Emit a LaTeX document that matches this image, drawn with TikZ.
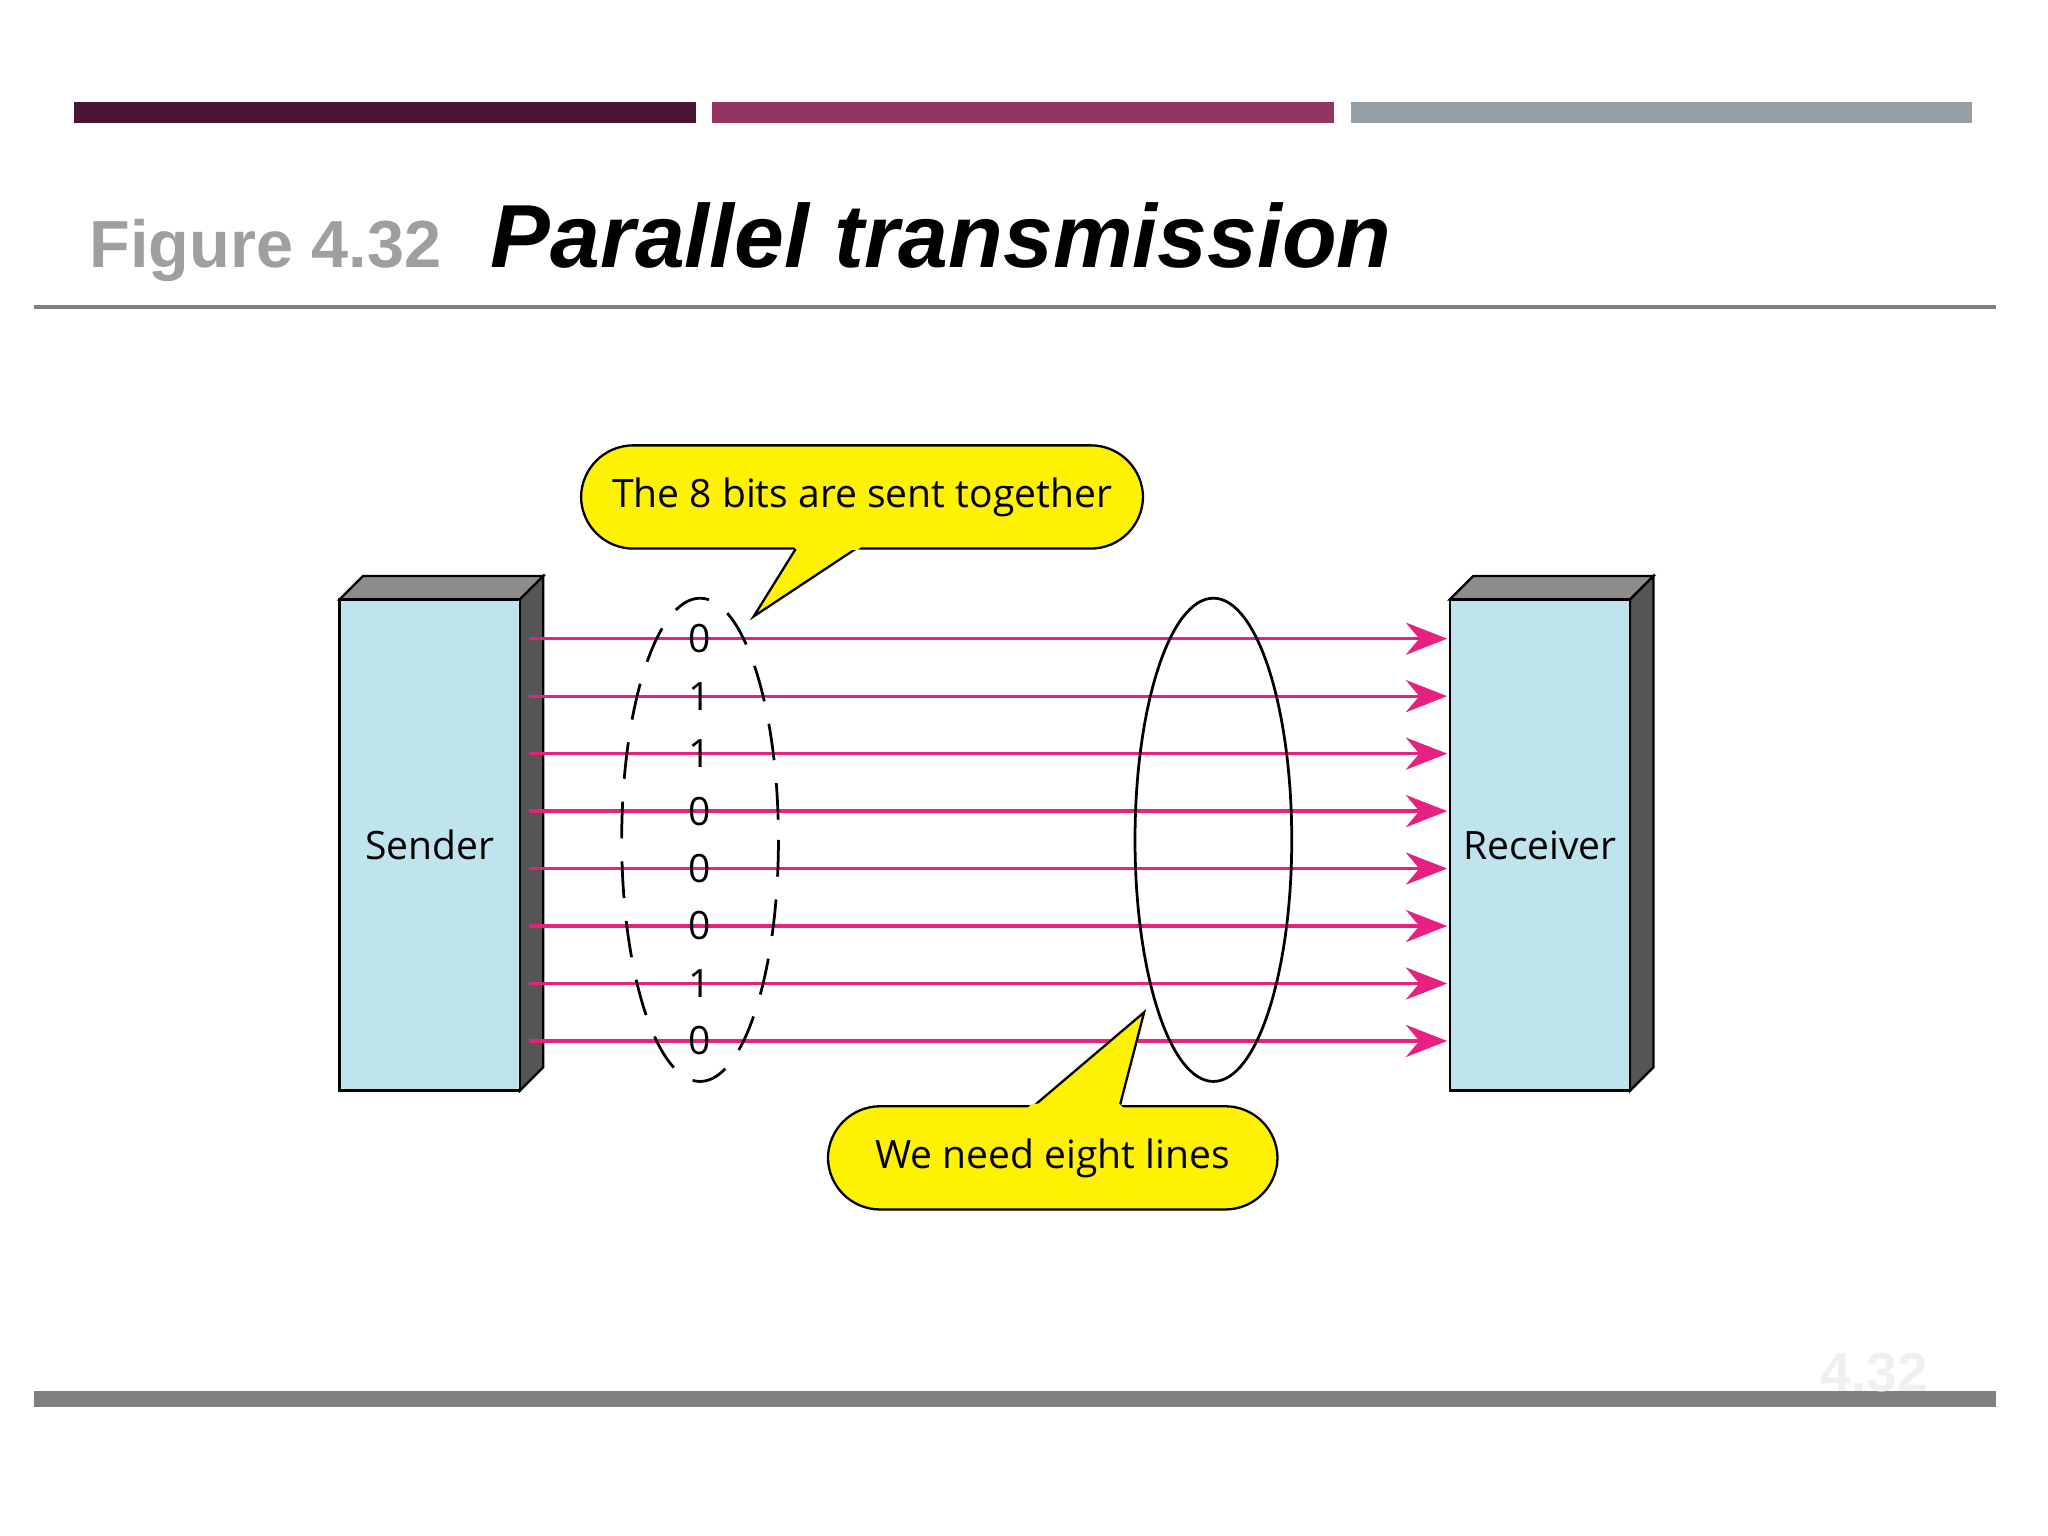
\documentclass[tikz,border=0pt]{standalone}
\usepackage{fontspec}
\setmainfont{Liberation Sans}
\newfontfamily\callfont{Open Sans}
\usetikzlibrary{arrows.meta}
\definecolor{plum}{HTML}{4A1535}
\definecolor{rose}{HTML}{943463}
\definecolor{slate}{HTML}{979FA6}
\definecolor{boxblue}{HTML}{C0E4EE}
\definecolor{topgray}{HTML}{8C8C8C}
\definecolor{sidegray}{HTML}{555555}
\definecolor{wire}{HTML}{E8207F}
\definecolor{callyellow}{HTML}{FFF200}
\tikzset{
  wirearrow/.style={wire, line width=0.7pt, -{Stealth[length=9pt,width=7pt]}},
  bit/.style={font=\callfont\fontsize{8.5}{10}\selectfont, inner sep=0pt},
  callout/.style={draw=black, line width=0.5pt, fill=callyellow, rounded corners=0.4cm, font=\callfont\fontsize{8.5}{10}\selectfont, minimum height=0.79cm},
  boxlabel/.style={font=\callfont\fontsize{8.5}{10}\selectfont}
}
\begin{document}
\begin{tikzpicture}[x=0.01cm,y=-0.01cm]
\useasboundingbox (0,0) rectangle (1568,1176);
\fill[white] (0,0) rectangle (1568,1176);
% top bars
\fill[plum] (57,78) rectangle (533,94);
\fill[rose] (545,78) rectangle (1021,94);
\fill[slate] (1034,78) rectangle (1510,94);
% title
\node[anchor=base west, text=gray!75, font=\bfseries\fontsize{14.5}{16}\selectfont, inner sep=0] (fig) at (68,205) {Figure 4.32};
\node[anchor=base west, font=\bfseries\itshape\fontsize{19.5}{22}\selectfont, inner sep=0] (ttl) at (375,205) {Parallel transmission};
\draw[gray, line width=1pt] (26,235) -- (1528,235);
% bottom
\fill[gray] (26,1065) rectangle (1528,1077);
\node[anchor=base east, text=gray!12, font=\bfseries\fontsize{12}{14}\selectfont, inner sep=0] (pg) at (1477,1065) {4.32};
% sender
\filldraw[fill=topgray, draw=black, line width=0.5pt] (260,459) -- (278,441) -- (416,441) -- (398,459) -- cycle;
\filldraw[fill=sidegray, draw=black, line width=0.5pt] (398,459) -- (416,441) -- (416,817) -- (398,835) -- cycle;
\draw[fill=boxblue, line width=0.5pt] (260,459) rectangle (398,835);
\node[boxlabel] (snd) at (329,647) {Sender};
% receiver
\filldraw[fill=topgray, draw=black, line width=0.5pt] (1110,459) -- (1128,441) -- (1266,441) -- (1248,459) -- cycle;
\filldraw[fill=sidegray, draw=black, line width=0.5pt] (1248,459) -- (1266,441) -- (1266,817) -- (1248,835) -- cycle;
\draw[fill=boxblue, line width=0.5pt] (1110,459) rectangle (1248,835);
\node[boxlabel] (rcv) at (1179,647) {Receiver};
% wires
\foreach \y/\b [count=\i] in {489/0,533/1,577/1,621/0,665/0,709/0,753/1,797/0}{
  \coordinate (s\i) at (405,\y);
  \coordinate (r\i) at (1108,\y);
  \draw[wirearrow] (s\i) -- (r\i);
  \node[bit] (b\i) at (536,\y) {\b};
}
\draw[dashed, dash pattern=on 8pt off 5pt, line width=0.6pt] (536,643) ellipse [x radius=60, y radius=185];
\draw[line width=0.6pt] (929,643) ellipse [x radius=60, y radius=185];
% callouts
\node[callout, minimum width=4.3cm] (c1) at (660,380.5) {The 8 bits are sent together};
\filldraw[fill=callyellow, draw=black, line width=0.5pt] (610,419) -- (577,472) -- (657,419);
\fill[callyellow] (605,416) -- (662,416) -- (657,421) -- (610,421) -- cycle;
\node[callout, minimum width=3.44cm] (c2) at (806,886.5) {We need eight lines};
\filldraw[fill=callyellow, draw=black, line width=0.5pt] (790,848) -- (876,775) -- (857,848);
\fill[callyellow] (785,850) -- (862,850) -- (857,845) -- (790,845) -- cycle;
\end{tikzpicture}
\end{document}
